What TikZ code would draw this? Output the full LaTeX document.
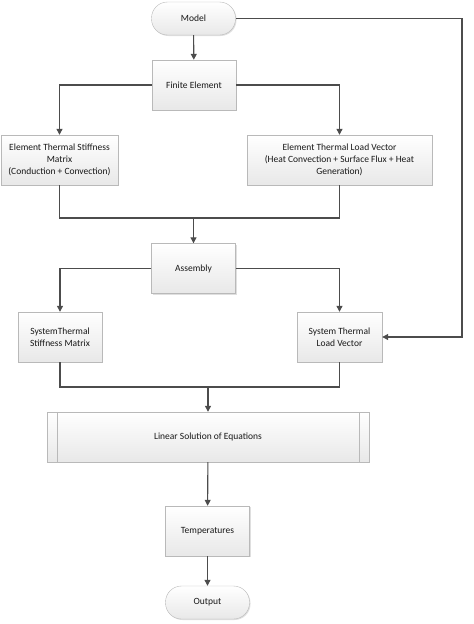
\documentclass[tikz,border=0pt]{standalone}
\usepackage{fontspec}
\setmainfont{Carlito}
\usetikzlibrary{arrows.meta,shadows}
\tikzset{
  box/.style={draw=gray!55, top color=white, bottom color=gray!18, text=black!90,
    align=center, font=\fontsize{9.5}{11.7}\selectfont, minimum width=84pt,
    minimum height=50pt, inner sep=2pt,
    drop shadow={shadow xshift=1pt, shadow yshift=-1pt, opacity=0.25}},
  term/.style={box, rounded corners=16pt, minimum height=33pt},
  flowarrow/.style={draw=black!70, line width=1.1pt, -{Triangle[length=6pt,width=6pt]}},
  flowline/.style={draw=black!70, line width=1.1pt}
}
\begin{document}
\begin{tikzpicture}[x=1pt,y=-1pt]
            \useasboundingbox (0,0) rectangle (474,624);
            % nodes
            \node[term] (model) at (193.5,18.5) {Model};
            \node[box] (fe) at (194,85) {Finite Element};
            \node[box, minimum width=117pt] (ets) at (59.5,160) {Element Thermal Stiffness\\Matrix\\(Conduction + Convection)};
            \node[box, minimum width=185pt] (etl) at (339.5,160) {Element Thermal Load Vector\\(Heat Convection + Surface Flux + Heat\\Generation)};
            \node[box] (asm) at (193.5,268.5) {Assembly};
            \node[box] (sts) at (60,337) {SystemThermal\\Stiffness Matrix};
            \node[box, minimum width=85pt] (stl) at (339.5,337) {System Thermal\\Load Vector};
            \node[box, minimum width=322pt] (lin) at (208,437) {Linear Solution of Equations};
            \draw[gray!55] ([xshift=10pt]lin.north west) -- ([xshift=10pt]lin.south west);
            \draw[gray!55] ([xshift=-10pt]lin.north east) -- ([xshift=-10pt]lin.south east);
            \node[box] (temp) at (207.5,531) {Temperatures};
            \node[term] (out) at (207.5,602.5) {Output};
            % connectors
            \coordinate (c1) at (462,18.5);
            \coordinate (m1) at (193.5,218);
            \coordinate (m2) at (208,387);
            \draw[flowarrow] (model) -- (fe);
            \draw[flowarrow] (fe.west) -| (ets.north);
            \draw[flowarrow] (fe.east) -| (etl.north);
            \draw[flowarrow] (model.east) -- (c1) |- (stl.east);
            \draw[flowline] (ets.south) |- (m1) -| (etl.south);
            \draw[flowarrow] (m1) -- (asm);
            \draw[flowarrow] (asm.west) -| (sts.north);
            \draw[flowarrow] (asm.east) -| (stl.north);
            \draw[flowline] (sts.south) |- (m2) -| (stl.south);
            \draw[flowarrow] (m2) -- (lin);
            \draw[flowarrow] (lin) -- (temp);
            \draw[flowarrow] (temp) -- (out);
        \end{tikzpicture}
\end{document}
